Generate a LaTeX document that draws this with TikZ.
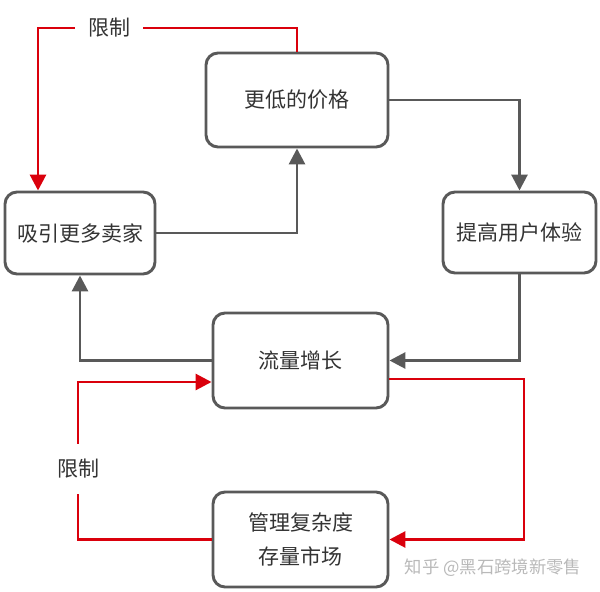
\documentclass[tikz,border=0pt]{standalone}
\usepackage{fontspec}
\setmainfont{Noto Sans CJK SC}
\usetikzlibrary{arrows.meta,calc}
\definecolor{boxgray}{RGB}{89,89,89}
\definecolor{linered}{RGB}{218,0,12}
\definecolor{txt}{RGB}{51,51,51}
\definecolor{wm}{RGB}{185,185,185}
\begin{document}
\begin{tikzpicture}[x=0.75pt,y=-0.75pt,
  box/.style={draw=boxgray, line width=2.2pt, rounded corners=9pt, fill=white, text=txt,
    font=\fontsize{15.75}{25.5}\selectfont, align=center, inner sep=0pt},
  gline/.style={draw=boxgray, line width=2.2pt, -{Triangle[length=12pt,width=12pt]}},
  rline/.style={draw=linered, line width=2.2pt, -{Triangle[length=12pt,width=12pt]}},
  rplain/.style={draw=linered, line width=2.2pt},
  lbl/.style={fill=white, text=txt, font=\fontsize{15.75}{20}\selectfont, inner sep=0pt}
]
\useasboundingbox (0,0) rectangle (600,592);
% boxes
\node[box, minimum width=136.5pt, minimum height=70.5pt] (price) at (297,100) {更低的价格};
\node[box, minimum width=112.5pt, minimum height=61.5pt] (seller) at (80,233) {吸引更多卖家};
\node[box, minimum width=114.75pt, minimum height=60.75pt] (ux) at (519.5,232.5) {提高用户体验};
\node[box, minimum width=131.25pt, minimum height=71.25pt] (flow) at (300.5,360.5) {流量增长};
\node[box, minimum width=131.25pt, minimum height=71.25pt] (mgmt) at (300.5,539.5) {管理复杂度\\存量市场};
% helper coordinates
\coordinate (r1) at (38,28);
\coordinate (r2) at (524,379);
\coordinate (r3) at (78,382);
% gray connectors
\draw[gline] (price.east) -| (ux.north);
\draw[gline] (ux.south) |- (flow.east);
\draw[gline] (flow.west) -| (seller.south);
\draw[gline] (seller.east) -| (price.south);
% red connectors
\draw[rline] (price.north) |- (r1) -- (r1 |- seller.north);
\draw[rline] ($(flow.east)+(0,18.5)$) -- (r2) |- (mgmt.east);
\draw[rline] (mgmt.west) -| (r3) -- ($(flow.west)+(0,21.5)$);
% labels
\node[lbl, minimum width=51pt, minimum height=14pt] (lim1) at (109,28) {限制};
\node[lbl, minimum width=30pt, minimum height=38pt] (lim2) at (78,469) {限制};
% watermark
\node[text=wm, font=\fontsize{13}{15}\selectfont, inner sep=0pt] (wmark) at (493,568) {知乎 @黑石跨境新零售};
\end{tikzpicture}
\end{document}
